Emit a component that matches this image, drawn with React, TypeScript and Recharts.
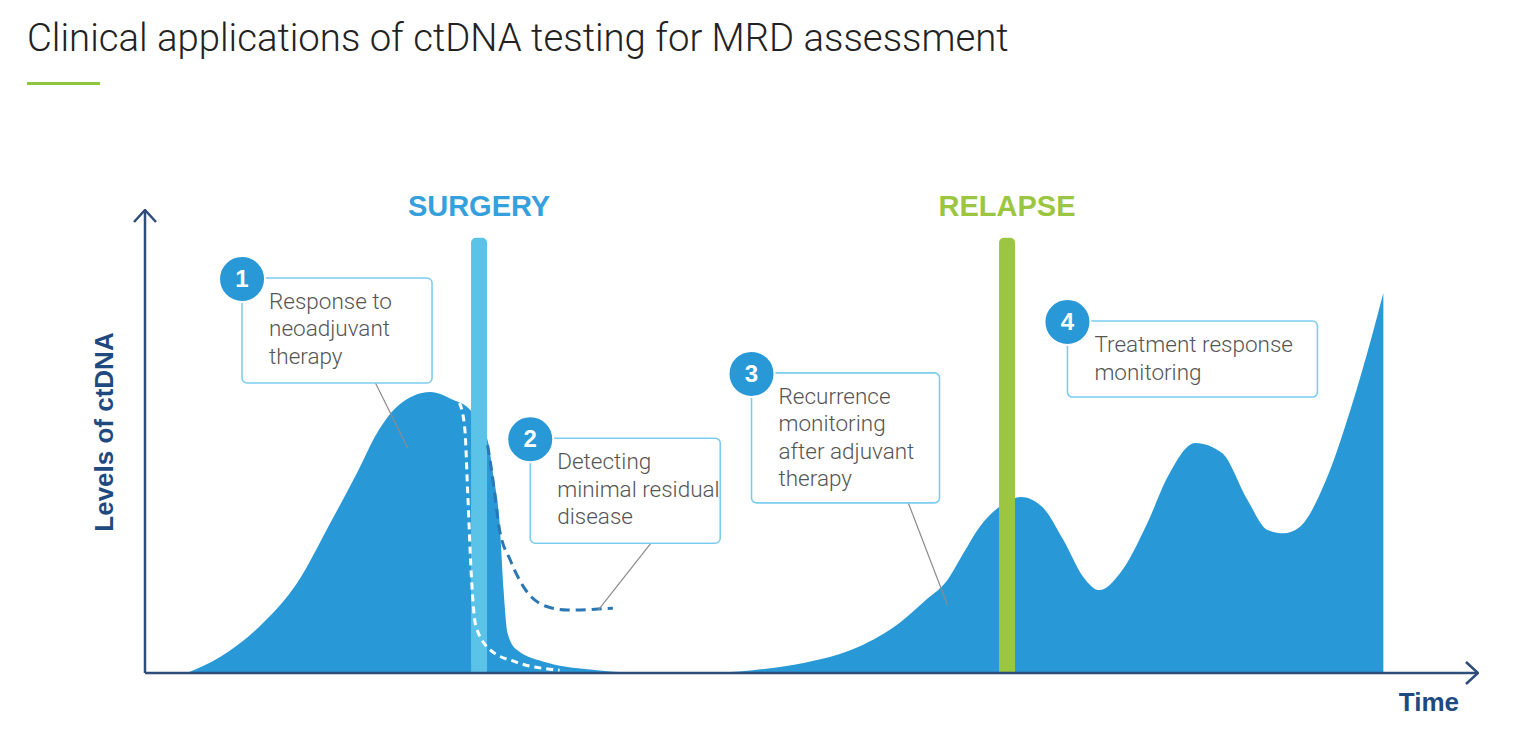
import {
  ComposedChart,
  Area,
  Line,
  XAxis,
  YAxis,
  ReferenceArea,
  ReferenceLine,
  ReferenceDot,
  Rectangle,
} from "recharts";

// main ctDNA curve (time 0-100, level 0-100)
const time = [
  3.15, 5.63, 8.85, 11.4, 13.9, 15.9, 17.4, 18.9, 21.4, 23.1, 24.4, 25.7, 26.1,
  26.6, 26.9, 27.2, 27.9, 30.2, 33.9, 37.9, 41.6, 45.6, 49.5, 53.5, 56.6, 58.6,
  60.2, 61.4, 62.6, 64.1, 65.7, 67.3, 68.9, 70.4, 71.6, 73.1, 75.2, 76.7, 78.8,
  80.8, 82.7, 84.2, 85.4, 86.6, 88.6, 90.5, 92.1, 92.9,
];
const ctdnaLevel = [
  0, 3.46, 10.8, 19.4, 32.4, 43.2, 51.8, 57.5, 60.7, 59.0, 56.8, 50.3, 43.2,
  32.4, 17.9, 8.6, 5.0, 2.2, 0.6, 0, 0, 0.6, 2.2, 5.6, 10.8, 15.8, 20.1, 25.9,
  31.5, 35.9, 38.0, 35.9, 28.7, 20.7, 17.9, 21.4, 32.4, 42.3, 49.7, 47.5, 37.4,
  30.9, 30.2, 31.5, 41.7, 57.5, 73.4, 82.1,
];

// complete response after surgery (white dashed)
const clearedTime = [23.6, 24.0, 24.2, 24.5, 24.8, 25.9, 27.8, 31.1];
const clearedLevel = [58.3, 52.5, 39.5, 20.1, 10.4, 5.0, 2.4, 0.6];

// residual disease after surgery (dark dashed)
const residualTime = [25.7, 26.0, 26.6, 27.4, 28.4, 30.2, 31.7, 35.1];
const residualLevel = [49.2, 43.8, 30.9, 24.4, 18.6, 14.3, 13.6, 14.0];

const events = [
  { name: "SURGERY", from: 24.46, to: 25.66, color: "#5bc3e7", labelColor: "#35a0dc" },
  { name: "RELAPSE", from: 64.07, to: 65.27, color: "#9cc641", labelColor: "#9cc641" },
];
const eventTop = 94;

const callouts = [
  { num: "1", t: 7.28, level: 85.1, w: 190, h: 105, lines: ["Response to", "neoadjuvant", "therapy"] },
  { num: "2", t: 28.9, level: 50.5, w: 190, h: 105, lines: ["Detecting", "minimal residual", "disease"] },
  { num: "3", t: 45.5, level: 64.6, w: 188, h: 130, lines: ["Recurrence", "monitoring", "after adjuvant", "therapy"] },
  { num: "4", t: 69.2, level: 75.8, w: 250, h: 76, lines: ["Treatment response", "monitoring"] },
];

const leaders = [
  [{ x: 16.7, y: 66.1 }, { x: 19.7, y: 48.6 }],
  [{ x: 38.9, y: 31.5 }, { x: 34.0, y: 13.6 }],
  [{ x: 56.8, y: 40.2 }, { x: 60.2, y: 14.7 }],
];

const mainData = time.map((t, i) => ({ t, level: ctdnaLevel[i] }));
const clearedData = clearedTime.map((t, i) => ({ t, level: clearedLevel[i] }));
const residualData = residualTime.map((t, i) => ({ t, level: residualLevel[i] }));

const BLUE = "#2898d6";
const AXIS = "#2e4d78";
const NAVY = "#1f4a80";

function Callout({ cx, cy, c }: any) {
  return (
    <g>
      <rect
        x={cx}
        y={cy - 1}
        width={c.w}
        height={c.h}
        rx={5}
        fill="#fff"
        stroke="#7dcdf2"
        strokeWidth={1.6}
      />
      <circle cx={cx} cy={cy} r={23} fill={BLUE} stroke="#fff" strokeWidth={2} />
      <text
        x={cx}
        y={cy + 8}
        textAnchor="middle"
        fill="#fff"
        fontSize={24}
        fontWeight={700}
        fontFamily="Liberation Sans, Arial, sans-serif"
      >
        {c.num}
      </text>
      {c.lines.map((line: string, i: number) => (
        <text
          key={i}
          x={cx + 27}
          y={cy + 30 + i * 27.5}
          fill="#555"
          fontSize={22.5}
          fontWeight={300}
          fontFamily="Roboto, sans-serif"
        >
          {line}
        </text>
      ))}
    </g>
  );
}

function TimeLabel({ viewBox }: any) {
  return (
    <text
      x={viewBox.x + viewBox.width - 19}
      y={665 + 38}
      textAnchor="end"
      fill={NAVY}
      fontSize={26}
      fontWeight={700}
      fontFamily="Liberation Sans, Arial, sans-serif"
    >
      Time
    </text>
  );
}

function LevelLabel() {
  const x = 137 - 32;
  const y = 424;
  return (
    <text
      x={x}
      y={y}
      transform={`rotate(-90 ${x} ${y})`}
      textAnchor="middle"
      fill={NAVY}
      fontSize={26}
      fontWeight={700}
      fontFamily="Liberation Sans, Arial, sans-serif"
    >
      Levels of ctDNA
    </text>
  );
}

export default function App() {
  return (
    <div style={{ position: "relative", width: 1520, height: 736, background: "#fff" }}>
      <div
        style={{
          position: "absolute",
          left: 19,
          top: 10,
          fontFamily: "Roboto, sans-serif",
          fontWeight: 300,
          fontSize: 38.3,
          lineHeight: "40px",
          color: "#222",
          whiteSpace: "nowrap",
        }}
      >
        Clinical applications of ctDNA testing for MRD assessment
      </div>
      <div
        style={{
          position: "absolute",
          left: 19,
          top: 74,
          width: 73,
          height: 3,
          background: "#8dc63f",
        }}
      />
      <div style={{ position: "absolute", left: 0, top: 0 }}>
        <ComposedChart
          width={1520}
          height={736}
          margin={{ top: 202, right: 50, bottom: 70, left: 136 }}
        >
          <defs>
            <marker
              id="axisArrow"
              viewBox="0 0 14 24"
              refX="13"
              refY="12"
              markerWidth="14"
              markerHeight="24"
              markerUnits="userSpaceOnUse"
              orient="auto-start-reverse"
            >
              <path d="M1,1 L13,12 L1,23" fill="none" stroke={AXIS} strokeWidth={2.5} />
            </marker>
          </defs>
          <XAxis
            type="number"
            dataKey="t"
            domain={[0, 100]}
            height={1}
            tick={false}
            tickLine={false}
            axisLine={{ stroke: AXIS, strokeWidth: 2.5, markerEnd: "url(#axisArrow)" }}
            label={<TimeLabel />}
          />
          <YAxis
            type="number"
            domain={[0, 100]}
            width={1}
            tick={false}
            tickLine={false}
            axisLine={{ stroke: AXIS, strokeWidth: 2.5, markerStart: "url(#axisArrow)" }}
            label={<LevelLabel />}
          />
          <Area
            data={mainData}
            type="monotone"
            dataKey="level"
            stroke="none"
            fill={BLUE}
            fillOpacity={1}
            isAnimationActive={false}
            dot={false}
            activeDot={false}
          />
          {events.map((e) => (
            <ReferenceArea
              key={e.name}
              x1={e.from}
              x2={e.to}
              y1={0}
              y2={eventTop}
              fill={e.color}
              fillOpacity={1}
              stroke="none"
              shape={(p: any) => <Rectangle {...p} radius={[5, 5, 0, 0]} />}
              label={{
                value: e.name,
                position: "top",
                offset: 22,
                fill: e.labelColor,
                fontSize: 29,
                fontWeight: 700,
                fontFamily: "Liberation Sans, Arial, sans-serif",
              }}
            />
          ))}
          <Line
            data={clearedData}
            type="monotone"
            dataKey="level"
            stroke="#fff"
            strokeWidth={3}
            strokeDasharray="7 5"
            dot={false}
            activeDot={false}
            isAnimationActive={false}
          />
          <Line
            data={residualData}
            type="monotone"
            dataKey="level"
            stroke="#2a77b3"
            strokeWidth={3}
            strokeDasharray="10 6"
            dot={false}
            activeDot={false}
            isAnimationActive={false}
          />
          {leaders.map((seg, i) => (
            <ReferenceLine key={i} segment={seg} stroke="#8c8c8c" strokeWidth={1.2} />
          ))}
          {callouts.map((c) => (
            <ReferenceDot
              key={c.num}
              x={c.t}
              y={c.level}
              r={23}
              shape={(p: any) => <Callout cx={p.cx} cy={p.cy} c={c} />}
            />
          ))}
        </ComposedChart>
      </div>
    </div>
  );
}
